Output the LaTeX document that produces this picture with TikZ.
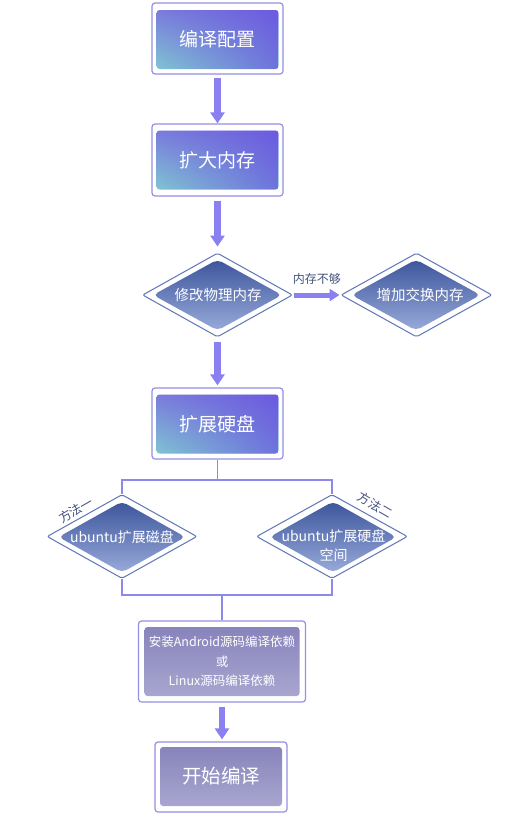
\documentclass[tikz,border=0pt]{standalone}
\usepackage{fontspec}
\setmainfont{Noto Sans CJK SC}
\usetikzlibrary{shapes.geometric,arrows.meta,fadings}
\definecolor{arr}{HTML}{8A80F2}
\definecolor{ln}{HTML}{8C88EC}
\definecolor{frm}{HTML}{9490E4}
\definecolor{bxT}{HTML}{7A7CDC}
\definecolor{bxB}{HTML}{80C4D2}
\definecolor{bxP}{HTML}{6548E2}
\definecolor{dmA}{HTML}{3D569C}
\definecolor{dmB}{HTML}{98AADA}
\definecolor{dfrm}{HTML}{5E76B8}
\definecolor{lvA}{HTML}{8884BC}
\definecolor{lvB}{HTML}{A8A6CF}
\definecolor{lbl}{HTML}{44527E}
\tikzfading[name=fadeR, left color=transparent!100, right color=transparent!35]
\tikzset{
  frame/.style={draw=frm, line width=1.2pt, rounded corners=3pt, fill=white,
    minimum width=131pt, minimum height=71pt, inner sep=0pt},
  bluebox/.style={rounded corners=3pt, top color=bxT, bottom color=bxB,
    minimum width=122pt, minimum height=59pt, inner sep=0pt, text=white,
    font=\fontsize{19}{22}\selectfont,
    path picture={\fill[bxP, path fading=fadeR]
      (path picture bounding box.south west) rectangle (path picture bounding box.north east);}},
  lavbox/.style={rounded corners=3pt, top color=lvA, bottom color=lvB,
    inner sep=0pt, text=white, align=center},
  dout/.style={diamond, draw=dfrm, line width=1pt, fill=white, rounded corners=2pt,
    minimum width=150pt, minimum height=84pt, inner sep=0pt},
  din/.style={diamond, rounded corners=5pt, top color=dmA, bottom color=dmB,
    minimum width=129pt, minimum height=71pt, inner sep=0pt},
  dtext/.style={text=white, align=center, inner sep=0pt,
    font=\fontsize{14.5}{19}\selectfont},
  bigarrow/.style={draw=arr, line width=6.5pt, -{Triangle[length=11pt,width=14pt]}},
  midarrow/.style={draw=arr, line width=5pt, -{Triangle[length=10pt,width=12pt]}},
  conn/.style={draw=ln, line width=1.5pt},
  edgelbl/.style={text=lbl, inner sep=0pt, font=\fontsize{12}{14}\selectfont}
}
\begin{document}
\begin{tikzpicture}[x=1pt,y=-1pt]
\useasboundingbox[fill=white] (0,0) rectangle (523,819);
% box 1
\node[frame] (f1) at (217.5,38.5) {};
\node[bluebox] (b1) at (217.5,39.5) {编译配置};
% box 2
\node[frame, minimum height=72pt] (f2) at (217.5,160) {};
\node[bluebox] (b2) at (217.5,160) {扩大内存};
% diamond 1
\node[dout] (d1) at (217.5,295) {};
\node[din] (d1i) at (217.5,295) {};
\node[dtext] (t1) at (218,295) {修改物理内存};
% diamond 2
\node[dout, minimum width=151pt] (d2) at (416.5,295) {};
\node[din] (d2i) at (416,295) {};
\node[dtext] (t2) at (420,295) {增加交换内存};
% box 3
\node[frame] (f3) at (217.5,423.5) {};
\node[bluebox] (b3) at (217.5,424) {扩展硬盘};
% diamonds 3 and 4
\node[dout] (d3) at (122,536.5) {};
\node[din, minimum width=127pt] (d3i) at (122,537) {};
\node[dtext, font=\fontsize{14}{19}\selectfont] (t3) at (122,537) {ubuntu扩展磁盘};
\node[dout, minimum width=151pt] (d4) at (332,536.5) {};
\node[din, minimum width=127pt] (d4i) at (333,537) {};
\node[dtext, font=\fontsize{14}{19}\selectfont] (t4) at (333.5,545.5) {ubuntu扩展硬盘\\空间};
% box 5
\node[frame, minimum width=167pt, minimum height=81pt] (f5) at (222,661.5) {};
\node[lavbox, minimum width=155pt, minimum height=69pt,
      font=\fontsize{12.5}{19.5}\selectfont] (b5) at (222,661.5)
      {安装Android源码编译依赖\\或\\Linux源码编译依赖};
% box 6
\node[frame, minimum width=132pt, minimum height=70pt] (f6) at (221,777) {};
\node[lavbox, minimum width=122pt, minimum height=59pt,
      font=\fontsize{19.5}{22}\selectfont] (b6) at (221,776.5) {开始编译};
% junctions
\coordinate (j1) at (217.5,480);
\coordinate (j2) at (222,595);
% arrows
\draw[bigarrow] ([yshift=-3pt]f1.south) -- (f2.north);
\draw[bigarrow] ([yshift=-4pt]f2.south) -- ([yshift=6pt]d1.north);
\draw[bigarrow] ([yshift=-4pt]d1.south) -- ([yshift=2pt]f3.north);
\draw[midarrow] ([xshift=1pt]d1.east) -- node[edgelbl, above=8pt] (l1) {内存不够} ([xshift=-1pt]d2.west);
\draw[conn] (f3.south) -- (j1);
\draw[conn] (d3.north) |- (j1) -| (d4.north);
\draw[conn] (d3.south) |- (j2) -| (d4.south);
\draw[conn] (j2) -- (f5.north);
\draw[bigarrow] ([yshift=-4pt]f5.south) -- ([yshift=2pt]f5.south |- f6.north);
% method labels
\node[edgelbl, font=\fontsize{12.5}{14}\selectfont, rotate=30] (m1) at (76,510) {方法一};
\node[edgelbl, font=\fontsize{12.5}{14}\selectfont, rotate=-30] (m2) at (375,505) {方法二};
\end{tikzpicture}
\end{document}
